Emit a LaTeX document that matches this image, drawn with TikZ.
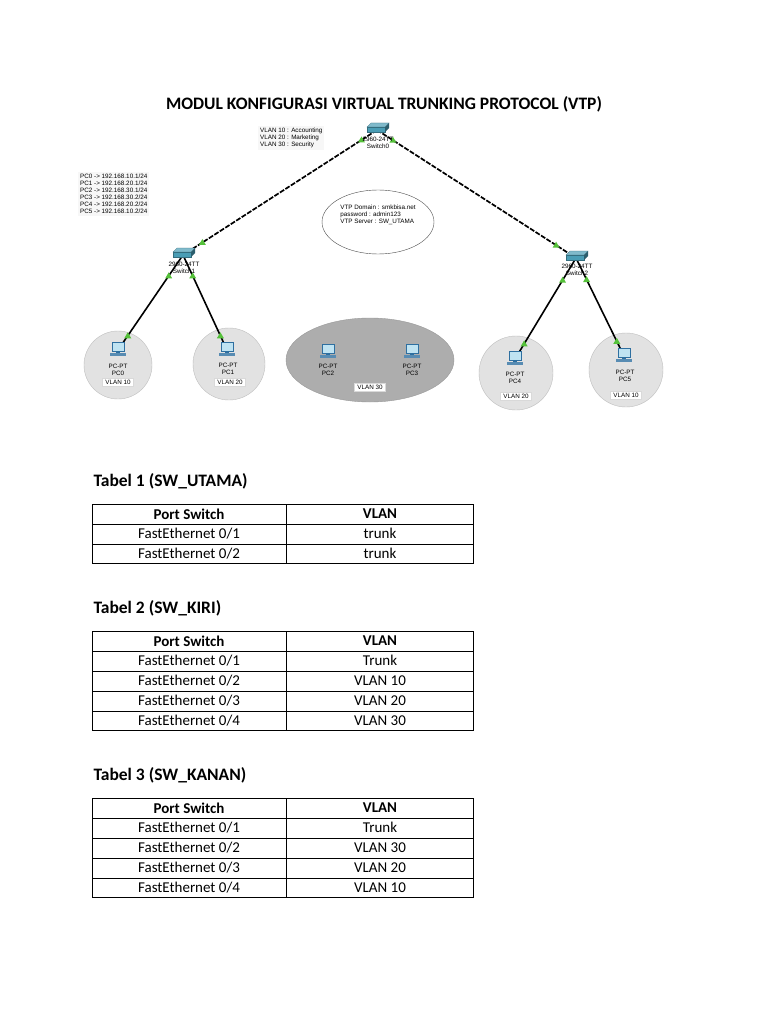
\documentclass[tikz,border=0pt]{standalone}
\usepackage{fontspec}
\setmainfont{Carlito}
\newfontfamily\arialf{Liberation Sans}
\usetikzlibrary{calc}
\definecolor{swc}{HTML}{4A9DB5}
\definecolor{pcc}{HTML}{2E6FA0}
\definecolor{pcs}{HTML}{BFE3F2}
\definecolor{grn}{HTML}{55C13A}
\definecolor{circ}{HTML}{E2E2E2}
\begin{document}
\begin{tikzpicture}[x=1pt,y=-1pt,
  tiny/.style={font=\arialf\fontsize{6.3}{7}\selectfont,inner sep=0pt,align=left},
  tinyc/.style={font=\arialf\fontsize{6.3}{7}\selectfont,inner sep=0pt,align=center},
  vbox/.style={tinyc,fill=white,draw=black!15,inner xsep=3pt,inner ysep=2pt},
  cell/.style={font=\fontsize{15}{17}\selectfont,anchor=center},
  bcell/.style={font=\bfseries\fontsize{15}{17}\selectfont,anchor=center},
  hd/.style={font=\bfseries\fontsize{17.5}{20}\selectfont,anchor=west},
  trunk/.style={line width=1.7pt,dash pattern=on 5pt off 1.5pt},
  link/.style={line width=1.6pt}]
\useasboundingbox (0,0) rectangle (768,1024);
\fill[white] (0,0) rectangle (768,1024);
\node[font=\bfseries\fontsize{17.5}{20}\selectfont] (title) at (384,104) {MODUL KONFIGURASI VIRTUAL TRUNKING PROTOCOL (VTP)};
\newcommand\swicon[1]{%
 \fill[swc!70!white,draw=swc!70!black,line width=0.3pt] ($(#1)+(-10,-3)$) -- ($(#1)+(-6,-7)$) -- ($(#1)+(12,-7)$) -- ($(#1)+(8,-3)$) -- cycle;
 \fill[swc,draw=swc!70!black,line width=0.3pt] ($(#1)+(-10,-3)$) rectangle ($(#1)+(8,2)$);
 \fill[swc!60!black] ($(#1)+(8,-3)$) -- ($(#1)+(12,-7)$) -- ($(#1)+(12,-2)$) -- ($(#1)+(8,2)$) -- cycle;}
\newcommand\pcicon[1]{%
 \fill[pcs,draw=pcc,line width=1pt] ($(#1)+(-6,-8)$) rectangle ($(#1)+(6,1)$);
 \fill[pcc] ($(#1)+(-2,1)$) rectangle ($(#1)+(2,3)$);
 \fill[pcc!80!white] ($(#1)+(-8,3)$) rectangle ($(#1)+(8,6)$);}
\fill[circ,draw=black!25] (118,365) circle (34);
\fill[circ,draw=black!25] (229,364) circle (36);
\fill[black!32,draw=black!40] (370,360) ellipse (84 and 42);
\fill[circ,draw=black!25] (516,373) circle (37);
\fill[circ,draw=black!25] (626,370) circle (37);
\draw[black!70] (378,222) ellipse (56 and 32);
\node[tiny] (vtp) at (378,215) {VTP Domain : smkbisa.net\\password : admin123\\VTP Server : SW\_UTAMA};
\node[tiny,fill=black!3,inner sep=2pt,anchor=north west] (vl) at (258,126) {VLAN 10 : Accounting\\VLAN 20 : Marketing\\VLAN 30 : Security};
\node[tiny,fill=black!3,inner sep=2pt,anchor=north west] (ip) at (78,172) {PC0 -> 192.168.10.1/24\\PC1 -> 192.168.20.1/24\\PC2 -> 192.168.30.1/24\\PC3 -> 192.168.30.2/24\\PC4 -> 192.168.20.2/24\\PC5 -> 192.168.10.2/24};
\coordinate (s0) at (377,130);
\coordinate (s1) at (183,255);
\coordinate (s2) at (576,258);
\coordinate (p0) at (118,350);
\coordinate (p1) at (227,350);
\coordinate (p2) at (328,352);
\coordinate (p3) at (412,352);
\coordinate (p4) at (515,359);
\coordinate (p5) at (624,356);
\draw[trunk] (s0) -- (s1);
\draw[trunk] (s0) -- (s2);
\draw[link] (s1) -- (p0);
\draw[link] (s1) -- (p1);
\draw[link] (s2) -- (p4);
\draw[link] (s2) -- (p5);
\foreach \p/\q/\t in {s0/s1/0.08,s0/s1/0.9,s0/s2/0.08,s0/s2/0.9,s1/p0/0.22,s1/p0/0.85,s1/p1/0.22,s1/p1/0.85,s2/p4/0.22,s2/p4/0.85,s2/p5/0.22,s2/p5/0.85}
  \fill[grn] ($(\p)!\t!(\q)$) +(0,-3.5) -- +(3.5,2.5) -- +(-3.5,2.5) -- cycle;
\swicon{s0}
\swicon{s1}
\swicon{s2}
\node[tinyc] (s0l) at (378,143) {2960-24TT\\Switch0};
\node[tinyc] (s1l) at (184,268) {2960-24TT\\Switch1};
\node[tinyc] (s2l) at (577,270) {2960-24TT\\Switch2};
\foreach \c in {p0,p1,p2,p3,p4,p5} {\pcicon{\c}}
\node[tinyc] (l0) at (118,370) {PC-PT\\PC0};
\node[tinyc] (l1) at (228,369) {PC-PT\\PC1};
\node[tinyc] (l2) at (328,370) {PC-PT\\PC2};
\node[tinyc] (l3) at (412,370) {PC-PT\\PC3};
\node[tinyc] (l4) at (515,378) {PC-PT\\PC4};
\node[tinyc] (l5) at (625,376) {PC-PT\\PC5};
\node[vbox] (v0) at (118,382) {VLAN 10};
\node[vbox] (v1) at (230,382) {VLAN 20};
\node[vbox] (v2) at (370,387) {VLAN 30};
\node[vbox] (v4) at (516,396) {VLAN 20};
\node[vbox] (v5) at (626,395) {VLAN 10};
\node[hd] (h1) at (90,481) {Tabel 1 (SW\_UTAMA)};
\draw[line width=0.6pt] (92,504) rectangle (473,563);
\foreach \y in {524,544} \draw[line width=0.6pt] (92,\y) -- (473,\y);
\draw[line width=0.6pt] (286,504) -- (286,563);
\node[bcell] (a1) at (189,514) {Port Switch};
\node[bcell] (a2) at (380,514) {VLAN};
\foreach \i/\a/\b in {1/FastEthernet 0\slash1/trunk,2/FastEthernet 0\slash2/trunk}
 {\node[cell] at (189,514+\i*19.7) {\a}; \node[cell] at (380,514+\i*19.7) {\b};}
\node[hd] (h2) at (90,608) {Tabel 2 (SW\_KIRI)};
\draw[line width=0.6pt] (92,631) rectangle (473,730);
\foreach \y in {651,671,691,711} \draw[line width=0.6pt] (92,\y) -- (473,\y);
\draw[line width=0.6pt] (286,631) -- (286,730);
\node[bcell] (b1) at (189,641) {Port Switch};
\node[bcell] (b2) at (380,641) {VLAN};
\foreach \i/\a/\b in {1/FastEthernet 0\slash1/Trunk,2/FastEthernet 0\slash2/VLAN 10,3/FastEthernet 0\slash3/VLAN 20,4/FastEthernet 0\slash4/VLAN 30}
 {\node[cell] at (189,641+\i*19.8) {\a}; \node[cell] at (380,641+\i*19.8) {\b};}
\node[hd] (h3) at (90,775) {Tabel 3 (SW\_KANAN)};
\draw[line width=0.6pt] (92,798) rectangle (473,897);
\foreach \y in {818,838,858,878} \draw[line width=0.6pt] (92,\y) -- (473,\y);
\draw[line width=0.6pt] (286,798) -- (286,897);
\node[bcell] (c1) at (189,808) {Port Switch};
\node[bcell] (c2) at (380,808) {VLAN};
\foreach \i/\a/\b in {1/FastEthernet 0\slash1/Trunk,2/FastEthernet 0\slash2/VLAN 30,3/FastEthernet 0\slash3/VLAN 20,4/FastEthernet 0\slash4/VLAN 10}
 {\node[cell] at (189,808+\i*19.8) {\a}; \node[cell] at (380,808+\i*19.8) {\b};}
\end{tikzpicture}
\end{document}
